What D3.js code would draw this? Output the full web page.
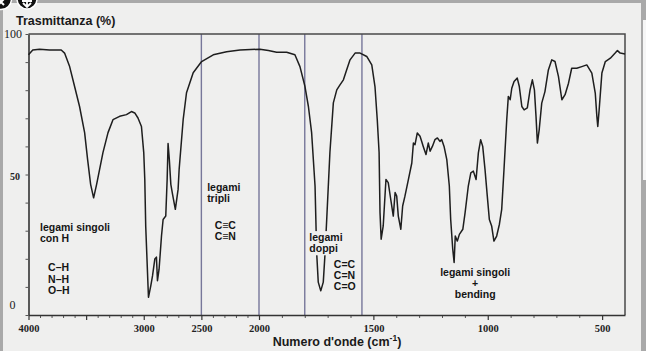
<!DOCTYPE html>
<html>
<head>
<meta charset="utf-8">
<script src="https://cdn.jsdelivr.net/npm/d3@7"></script>
<style>
  html, body { margin: 0; padding: 0; background: #a9a9a9; }
  svg { display: block; }
</style>
</head>
<body>
<svg id="chart" width="646" height="351"></svg>
<script>
// spectrum: wavenumber (cm-1) and transmittance (%)
const wavenumber = [4000,3963,3904,3817,3716,3687,3643,3600,3557,3513,3487,3461,3435,3409,3383,3354,3310,3267,3209,3150,3107,3078,3050,3020,3000,2991,2983,2963,2959,2939,2924,2904,2890,2881,2867,2846,2832,2809,2797,2789,2778,2765,2750,2726,2702,2693,2658,2629,2571,2498,2397,2281,2165,1996,1959,1923,1879,1843,1821,1799,1784,1770,1755,1748,1741,1730,1719,1711,1704,1690,1675,1660,1646,1631,1617,1602,1580,1558,1529,1507,1493,1483,1475,1471,1466,1457,1445,1435,1424,1413,1405,1398,1391,1380,1372,1362,1347,1332,1325,1318,1308,1296,1289,1282,1270,1260,1252,1242,1231,1220,1209,1201,1191,1179,1168,1162,1153,1147,1142,1133,1124,1109,1099,1085,1074,1063,1051,1041,1031,1022,1012,1002,993,983,973,961,949,939,929,917,910,902,895,885,871,862,851,841,827,815,805,796,789,783,775,764,750,735,720,706,691,676,662,647,633,611,589,567,545,530,523,519,513,501,486,464,443,433,421,400]
const transmittance = [92.6,94.3,94.6,94.3,94.3,93.2,88.4,81.3,74.2,64.9,55.3,46.5,41.7,46.5,51.8,57.8,64.9,69.5,70.7,71.3,72.4,71.9,70.1,67.1,57.8,48.2,31.7,10.4,6.3,10.4,13.9,19.9,20.6,12.2,16.3,28.1,34.0,35.2,48.2,61.0,55.3,46.5,42.9,37.6,44.7,51.8,69.5,79.1,86.2,90.2,92.6,93.7,94.3,94.6,94.1,93.5,93.5,92.6,88.4,81.3,74.2,64.9,45.9,22.3,11.7,8.6,11.7,22.3,34.0,57.8,75.5,80.1,81.9,83.7,87.2,90.8,93.2,93.2,92.0,89.0,81.3,69.5,57.8,36.5,27.0,31.7,48.2,47.1,41.1,35.2,43.6,42.3,35.2,30.5,38.8,42.3,48.2,54.1,61.2,60.6,64.8,63.6,61.8,60.0,57.1,61.2,58.3,60.0,62.4,63.0,61.8,62.4,60.0,55.3,45.9,34.0,23.4,18.7,28.1,26.3,28.7,30.5,36.4,45.9,50.6,51.2,48.2,57.7,62.4,60.0,51.8,42.3,34.0,31.7,26.3,28.1,32.3,37.6,51.8,69.5,77.8,76.6,80.7,83.1,84.3,81.3,74.2,73.0,73.7,80.1,83.7,80.1,70.7,61.2,66.0,75.4,79.5,87.2,90.8,90.2,84.9,76.6,78.4,82.5,87.8,87.8,88.4,89.0,86.1,79.0,70.7,67.1,73.0,86.1,90.2,91.4,93.2,94.1,93.2,92.9]

// region borders (cm-1)
const regionLines = [2500, 2000, 1800, 1550]

// tick labels
const xMajor = [4000, 3500, 3000, 2500, 2000, 1500, 1000, 500]
const xLabels = [4000, 3000, 2500, 2000, 1500, 1000, 500]
const yTicks = [0, 10, 20, 30, 40, 50, 60, 70, 80, 90, 100]

// annotations: text lines per region (boxed = drawn over the curve with a background)
const notes = [
    { lines: ["legami singoli", "con H"], wn: 3900, t: 29.8, anchor: "start" },
    { lines: ["C\u2013H", "N\u2013H", "O\u2013H"], wn: 3830, t: 15.5, anchor: "start" },
    { lines: ["legami", "tripli"], wn: 2450, t: 44.1, anchor: "start" },
    { lines: ["C\u2261C", "C\u2261N"], wn: 2385, t: 30.6, anchor: "start" },
    { lines: ["legami", "doppi"], wn: 1780, t: 26.3, anchor: "start", boxed: true },
    { lines: ["C=C", "C=N", "C=O"], wn: 1673, t: 16.7, anchor: "start" },
    { lines: ["legami singoli", "+", "bending"], wn: 1055, t: 13.9, anchor: "middle" }
]

const svg = d3.select("#chart")
const W = 646, H = 351

// cornice e fondo
svg.append("rect").attr("width", W).attr("height", H).attr("fill", "#a9a9a9")
svg.append("rect").attr("x", 3).attr("y", 3).attr("width", 638).attr("height", H - 3).attr("fill", "#efefee")
svg.append("rect").attr("x", 643).attr("y", 20).attr("width", 3).attr("height", 160).attr("fill", "#f6f6f6")

// scale: split axis, 2000 cm-1 breaks the spacing
const x = d3.scaleLinear().domain([4000, 2000, 400]).range([28.5, 259, 625])
const y = d3.scaleLinear().domain([0, 100]).range([315, 34])

const plot = svg.append("g")

// vertical region lines
plot.selectAll(".region")
    .data(regionLines)
    .enter()
    .append("line")
    .attr("x1", d => x(d)).attr("x2", d => x(d))
    .attr("y1", y(100)).attr("y2", y(0))
    .attr("stroke", "#77779a")
    .attr("stroke-width", 1.4)

// frame top + right
plot.append("path")
    .attr("d", "M" + x(4000) + "," + y(100) + "H" + x(400) + "V" + y(0))
    .attr("fill", "none")
    .attr("stroke", "#4a4a4a")
    .attr("stroke-width", 1.5)

// x axis: minor ticks every 100, major every 500
const minor = d3.range(3900, 400, -100).filter(d => xMajor.indexOf(d) < 0)
const xMinorAxis = plot.append("g")
    .attr("transform", "translate(0," + y(0) + ")")
    .call(d3.axisBottom(x).tickValues(minor).tickSize(3).tickSizeOuter(0).tickFormat(""))
xMinorAxis.select(".domain").remove()
xMinorAxis.selectAll("line").attr("stroke", "#555").attr("stroke-width", 1)

const xAxis = plot.append("g")
    .attr("transform", "translate(0," + y(0) + ")")
    .call(d3.axisBottom(x).tickValues(xMajor).tickSize(5).tickSizeOuter(0).tickPadding(5)
        .tickFormat(d => xLabels.indexOf(d) >= 0 ? d : ""))
xAxis.select(".domain").attr("stroke", "#333").attr("stroke-width", 1.6)
xAxis.selectAll("line").attr("stroke", "#333").attr("stroke-width", 1.2)
xAxis.selectAll("text")
    .attr("fill", "#222")
    .style("font-family", "'Liberation Serif', serif")
    .style("font-weight", "bold")
    .style("font-size", "10.5px")

// y axis
const yAxis = plot.append("g")
    .attr("transform", "translate(" + x(4000) + ",0)")
    .call(d3.axisLeft(y).tickValues(yTicks).tickSize(3).tickSizeOuter(0).tickFormat(""))
yAxis.select(".domain").attr("stroke", "#333").attr("stroke-width", 1.6)
yAxis.selectAll("line").attr("stroke", "#555").attr("stroke-width", 1)

// y labels: 100 and 0 plain, 50 bold (as in the scan)
svg.append("text").attr("x", 22).attr("y", y(100) + 3.5).attr("text-anchor", "end")
    .style("font-family", "'Liberation Serif', serif").style("font-size", "12px").attr("fill", "#222").text("100")
svg.append("text").attr("x", 20).attr("y", y(50) + 5).attr("text-anchor", "end")
    .style("font-family", "'Liberation Serif', serif").style("font-weight", "bold").style("font-size", "10px").attr("fill", "#222").text("50")
svg.append("text").attr("x", 15.5).attr("y", y(0) - 6).attr("text-anchor", "end")
    .style("font-family", "'Liberation Serif', serif").style("font-size", "12px").attr("fill", "#222").text("0")

// spectrum
const pts = wavenumber.map((w, i) => [w, transmittance[i]])
const lineGenerator = d3.line()
    .x(d => x(d[0]))
    .y(d => y(d[1]))
plot.append("path")
    .attr("d", lineGenerator(pts))
    .attr("fill", "none")
    .attr("stroke", "#1e1e1e")
    .attr("stroke-width", 1.5)
    .attr("stroke-linejoin", "round")

// annotations
notes.forEach(n => {
    const g = svg.append("g")
    const t = g.append("text")
        .attr("text-anchor", n.anchor)
        .attr("fill", "#151515")
        .style("font-family", "'Liberation Sans', Arial, sans-serif")
        .style("font-weight", "bold")
        .style("font-size", "10.5px")
    n.lines.forEach((l, i) => {
        t.append("tspan")
            .attr("x", x(n.wn))
            .attr("y", y(n.t) + i * 11.2)
            .text(l)
    })
    if (n.boxed) {
        let bb = t.node().getBBox()
        g.insert("rect", "text")
            .attr("x", bb.x - 1).attr("y", bb.y)
            .attr("width", bb.width + 2).attr("height", bb.height + 1)
            .attr("fill", "#efefee")
    }
})

// titoli
svg.append("text")
    .attr("x", 16).attr("y", 24.5)
    .attr("fill", "#1a1a1a")
    .style("font-family", "'Liberation Sans', Arial, sans-serif")
    .style("font-weight", "bold")
    .style("font-size", "12.5px")
    .text("Trasmittanza (%)")

const xt = svg.append("text")
    .attr("x", 337).attr("y", 345.5)
    .attr("text-anchor", "middle")
    .attr("fill", "#1a1a1a")
    .style("font-family", "'Liberation Sans', Arial, sans-serif")
    .style("font-weight", "bold")
    .style("font-size", "12.5px")
xt.append("tspan").text("Numero d'onde (cm")
xt.append("tspan").attr("dy", -5).style("font-size", "8.5px").text("-1")
xt.append("tspan").attr("dy", 5).text(")")

// icone in alto a sinistra
const icons = svg.append("g")
icons.append("circle").attr("cx", 1).attr("cy", -1).attr("r", 10.5)
    .attr("fill", "#111").attr("stroke", "#fff").attr("stroke-width", 1.5)
icons.append("path").attr("d", "M-2,-1 L4,5 M4,-1 L-2,5")
    .attr("stroke", "#fff").attr("stroke-width", 2)
icons.append("circle").attr("cx", 27).attr("cy", -1).attr("r", 10)
    .attr("fill", "#111").attr("stroke", "#fff").attr("stroke-width", 1.5)
icons.append("path").attr("d", "M27,-1 V6 M23,3 L27,7 L31,3 M22,1 H32")
    .attr("stroke", "#fff").attr("stroke-width", 1.8).attr("fill", "none")
</script>
</body>
</html>
